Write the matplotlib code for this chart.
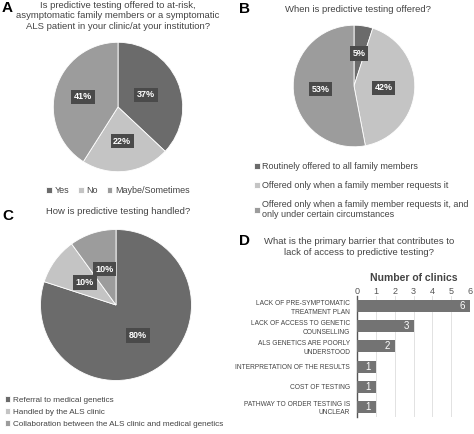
import matplotlib
matplotlib.use("Agg")
import matplotlib.pyplot as plt
import matplotlib.ticker
import numpy as np

plt.rcParams['font.family'] = ['Liberation Sans', 'DejaVu Sans']

# colours of the three answer groups
dark = "#6b6b6b"
light = "#c4c4c4"
mid = "#9c9c9c"
boxcol = "#4a4a4a"

# panel A
a_labels = ["Yes", "No", "Maybe/Sometimes"]
a_vals = [37, 22, 41]
# panel B
b_labels = ["Routinely offered to all family members",
            "Offered only when a family member requests it",
            "Offered only when a family member requests it, and\nonly under certain circumstances"]
b_vals = [5, 42, 53]
# panel C
c_labels = ["Referral to medical genetics",
            "Handled by the ALS clinic",
            "Collaboration between the ALS clinic and medical genetics"]
c_vals = [80, 10, 10]
# panel D
d_labels = ["LACK OF PRE-SYMPTOMATIC\nTREATMENT PLAN",
            "LACK OF ACCESS TO GENETIC\nCOUNSELLING",
            "ALS GENETICS ARE POORLY\nUNDERSTOOD",
            "INTERPRETATION OF THE RESULTS",
            "COST OF TESTING",
            "PATHWAY TO ORDER TESTING IS\nUNCLEAR"]
d_vals = [6, 3, 2, 1, 1, 1]

W, H = 474, 434
fig = plt.figure(figsize=(W / 100, H / 100), dpi=100)


def box(cx, cy, r):
    # pixel centre/radius -> figure axes rect
    return [(cx - r) / W, 1 - (cy + r) / H, 2 * r / W, 2 * r / H]


def fy(y):
    return 1 - y / H


def pie_panel(rect, vals, label_pos):
    ax = fig.add_axes(rect)
    wedges, _ = ax.pie(vals, colors=[dark, light, mid], startangle=90,
                       counterclock=False, radius=1,
                       wedgeprops=dict(edgecolor="white", linewidth=0.6))
    for v, w, rr in zip(vals, wedges, label_pos):
        ang = np.deg2rad((w.theta1 + w.theta2) / 2)
        ax.text(rr * np.cos(ang), rr * np.sin(ang), f"{v}%", color="white",
                fontsize=6.5, fontweight="bold", ha="center", va="center",
                bbox=dict(boxstyle="square,pad=0.3", fc=boxcol, ec="none"))
    ax.set_xlim(-1.02, 1.02)
    ax.set_ylim(-1.02, 1.02)
    return ax, wedges


# ---- A
fig.text(2 / W, fy(8), "A", fontsize=11, fontweight="bold", ha="left", va="center")
fig.text(118 / W, fy(16), "Is predictive testing offered to at-risk,\n"
         "asymptomatic family members or a symptomatic\n"
         "ALS patient in your clinic/at your institution?",
         fontsize=6.8, color="#444444", ha="center", va="center", linespacing=1.25)
axA, wA = pie_panel(box(118, 107, 66), a_vals, [0.47, 0.53, 0.56])
fig.legend(wA, a_labels, loc="center", bbox_to_anchor=(118 / W, fy(191)), ncol=3,
           frameon=False, fontsize=6.5, handlelength=0.6, handleheight=0.6,
           handletextpad=0.3, columnspacing=1.0, labelcolor="#444444")

# ---- B
fig.text(239 / W, fy(9), "B", fontsize=11, fontweight="bold", ha="left", va="center")
fig.text(358 / W, fy(9), "When is predictive testing offered?",
         fontsize=6.8, color="#444444", ha="center", va="center")
axB, wB = pie_panel(box(354, 86, 62), b_vals, [0.54, 0.49, 0.55])
fig.legend(wB, b_labels, loc="upper left", bbox_to_anchor=(246 / W, fy(154)), ncol=1,
           frameon=False, fontsize=6.5, handlelength=0.6, handleheight=0.6,
           handletextpad=0.3, labelspacing=1.1, labelcolor="#444444")

# ---- C
fig.text(2 / W, fy(216), "C", fontsize=11, fontweight="bold", ha="left", va="center")
fig.text(118 / W, fy(212), "How is predictive testing handled?",
         fontsize=6.8, color="#444444", ha="center", va="center")
axC, wC = pie_panel(box(116, 305, 77), c_vals, [0.5, 0.51, 0.5])
fig.legend(wC, c_labels, loc="upper left", bbox_to_anchor=(-2 / W, fy(389)), ncol=1,
           frameon=False, fontsize=5.9, handlelength=0.6, handleheight=0.6,
           handletextpad=0.3, labelspacing=0.55, labelcolor="#444444")

# ---- D
fig.text(239 / W, fy(241), "D", fontsize=11, fontweight="bold", ha="left", va="center")
fig.text(359 / W, fy(247), "What is the primary barrier that contributes to\n"
         "lack of access to predictive testing?",
         fontsize=6.8, color="#444444", ha="center", va="center", linespacing=1.25)
axD = fig.add_axes([357 / W, fy(417), 113 / W, 121 / H])
y = np.arange(len(d_vals))
axD.barh(y, d_vals, height=0.6, color="#737373", zorder=3)
for yi, v in zip(y, d_vals):
    axD.text(v - 0.4, yi, str(v), color="white", fontsize=7,
             ha="center", va="center", zorder=4)
axD.set_ylim(len(d_vals) - 0.5, -0.5)
axD.set_xlim(0, 6)
axD.set_yticks(y)
axD.set_yticklabels(d_labels, fontsize=4.8, color="#444444", linespacing=1.3)
axD.xaxis.set_major_locator(matplotlib.ticker.MultipleLocator(1))
axD.xaxis.tick_top()
axD.xaxis.set_label_position("top")
axD.set_xlabel("Number of clinics", fontsize=7.5, fontweight="bold", color="#444444", labelpad=4)
axD.tick_params(axis="x", length=0, labelsize=6.5, labelcolor="#555555", pad=0)
axD.tick_params(axis="y", length=0, pad=5)
axD.grid(axis="x", color="#dddddd", linewidth=0.6, zorder=0)
for s in ["top", "right", "bottom"]:
    axD.spines[s].set_visible(False)
axD.spines["left"].set_color("#555555")
axD.spines["left"].set_linewidth(1.0)

fig.savefig("out.png", dpi=100)
